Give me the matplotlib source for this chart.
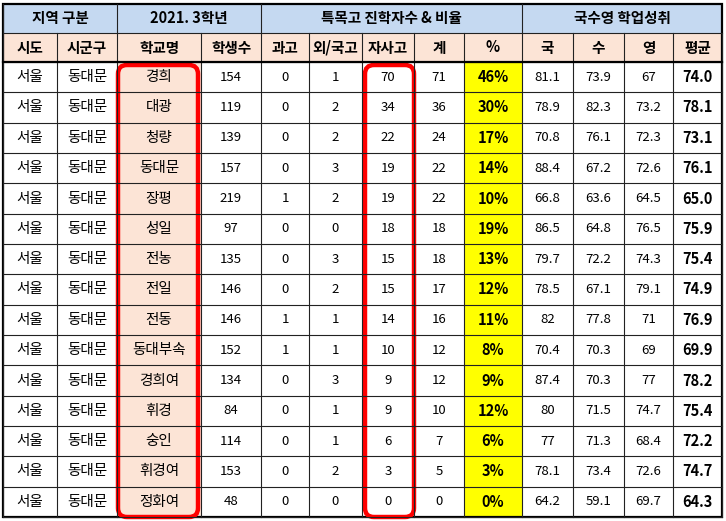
import matplotlib
matplotlib.use("Agg")
import matplotlib.pyplot as plt
from matplotlib.patches import Rectangle, FancyBboxPatch

plt.rcParams["font.family"] = "Noto Sans CJK KR"

group_headers = ["지역 구분", "2021. 3학년", "특목고 진학자수 & 비율", "국수영 학업성취"]
col_headers = ["시도", "시군구", "학교명", "학생수", "과고", "외/국고", "자사고", "계", "%", "국", "수", "영", "평균"]
sido = ["서울"] * 15
sigungu = ["동대문"] * 15
schools = ["경희", "대광", "청량", "동대문", "장평", "성일", "전농", "전일", "전동", "동대부속", "경희여", "휘경", "숭인", "휘경여", "정화여"]
students = [154, 119, 139, 157, 219, 97, 135, 146, 146, 152, 134, 84, 114, 153, 48]
sci = [0, 0, 0, 0, 1, 0, 0, 0, 1, 1, 0, 0, 0, 0, 0]
foreign = [1, 2, 2, 3, 2, 0, 3, 2, 1, 1, 3, 1, 1, 2, 0]
private = [70, 34, 22, 19, 19, 18, 15, 15, 14, 10, 9, 9, 6, 3, 0]
total = [71, 36, 24, 22, 22, 18, 18, 17, 16, 12, 12, 10, 7, 5, 0]
pct = ["46%", "30%", "17%", "14%", "10%", "19%", "13%", "12%", "11%", "8%", "9%", "12%", "6%", "3%", "0%"]
kor = ["81.1", "78.9", "70.8", "88.4", "66.8", "86.5", "79.7", "78.5", "82", "70.4", "87.4", "80", "77", "78.1", "64.2"]
math_ = ["73.9", "82.3", "76.1", "67.2", "63.6", "64.8", "72.2", "67.1", "77.8", "70.3", "70.3", "71.5", "71.3", "73.4", "59.1"]
eng = ["67", "73.2", "72.3", "72.6", "64.5", "76.5", "74.3", "79.1", "71", "69", "77", "74.7", "68.4", "72.6", "69.7"]
avg = ["74.0", "78.1", "73.1", "76.1", "65.0", "75.9", "75.4", "74.9", "76.9", "69.9", "78.2", "75.4", "72.2", "74.7", "64.3"]

W, H = 726, 521
xs = [3, 57, 117, 201, 261, 309, 362, 414, 464, 522, 573, 624, 673, 722]
y0, y1, y2 = 4, 33, 62
ybot = 517
n = len(schools)
rh = (ybot - y2) / n
groups = [(0, 2), (2, 4), (4, 9), (9, 13)]

fig = plt.figure(figsize=(W / 100, H / 100), dpi=100)
ax = fig.add_axes([0, 0, 1, 1])
ax.set_xlim(0, W); ax.set_ylim(H, 0); ax.axis("off")

blue = "#C5D9F1"; peach = "#FCE4D6"; yellow = "#FFFF00"
ax.add_patch(Rectangle((xs[0], y0), xs[-1] - xs[0], y1 - y0, fc=blue, ec="none"))
ax.add_patch(Rectangle((xs[0], y1), xs[-1] - xs[0], y2 - y1, fc=peach, ec="none"))
ax.add_patch(Rectangle((xs[2], y2), xs[3] - xs[2], ybot - y2, fc=peach, ec="none"))
ax.add_patch(Rectangle((xs[8], y2), xs[9] - xs[8], ybot - y2, fc=yellow, ec="none"))

lw_thin = 0.8
for i in range(n + 1):
    y = y2 + i * rh
    ax.plot([xs[0], xs[-1]], [y, y], color="#222222", lw=lw_thin)
ax.plot([xs[0], xs[-1]], [y1, y1], color="#222222", lw=lw_thin)
for j, x in enumerate(xs):
    ax.plot([x, x], [y1, ybot], color="#222222", lw=lw_thin)
for a, b in groups:
    ax.plot([xs[a], xs[a]], [y0, y1], color="#222222", lw=lw_thin)
ax.add_patch(Rectangle((xs[0], y0), xs[-1] - xs[0], ybot - y0, fc="none", ec="black", lw=1.6))
ax.plot([xs[0], xs[-1]], [y2, y2], color="black", lw=1.6)

fs = 10.5
for (a, b), t in zip(groups, group_headers):
    ax.text((xs[a] + xs[b]) / 2, (y0 + y1) / 2, t, ha="center", va="center", fontsize=fs, fontweight="bold")
for j, t in enumerate(col_headers):
    ax.text((xs[j] + xs[j + 1]) / 2, (y1 + y2) / 2, t, ha="center", va="center", fontsize=fs, fontweight="bold")

cols = [sido, sigungu, schools, students, sci, foreign, private, total, pct, kor, math_, eng, avg]
bold_cols = {8, 12}
for i in range(n):
    yc = y2 + (i + 0.5) * rh
    for j, c in enumerate(cols):
        ax.text((xs[j] + xs[j + 1]) / 2, yc, str(c[i]), ha="center", va="center",
                fontsize=fs if j < 3 or j in bold_cols else 9.5,
                fontweight="bold" if j in bold_cols else "normal")

for xa, xb in [(xs[2] + 1, xs[3] - 3), (xs[6] + 3, xs[7])]:
    ax.add_patch(FancyBboxPatch((xa, y2 + 3), xb - xa, ybot - y2 - 3, boxstyle="round,pad=0,rounding_size=9",
                                fc="none", ec="#FF0000", lw=3.2))

fig.savefig("out.png", dpi=100)
